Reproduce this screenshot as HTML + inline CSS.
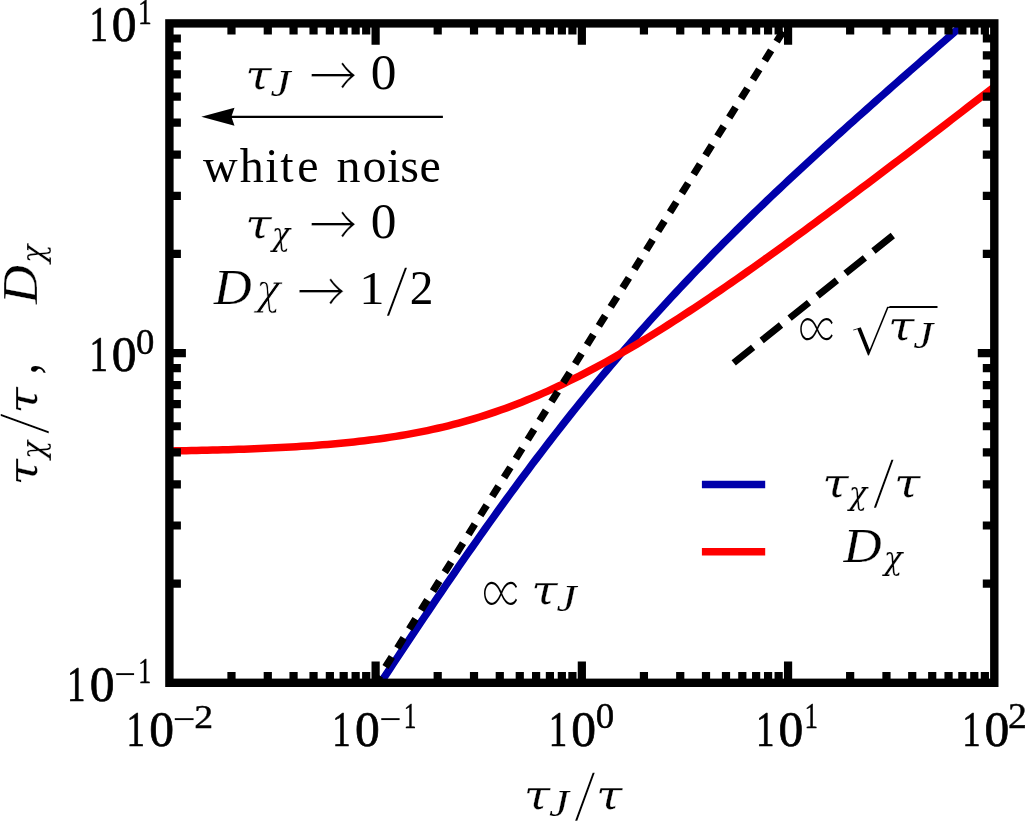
<!DOCTYPE html>
<html lang="en"><head><meta charset="utf-8"><title>plot</title>
<style>html,body{margin:0;padding:0;background:#fff}svg{display:block}</style></head>
<body>
<svg width="1025" height="821" viewBox="0 0 1025 821">
<rect width="1025" height="821" fill="#fff"/>
<defs><clipPath id="ax"><rect x="169.4" y="23.4" width="824.9" height="659.4"/></clipPath></defs>
<g clip-path="url(#ax)" fill="none">
<path d="M372.00,695.80 L376.34,689.24 L380.68,682.68 L385.01,676.12 L389.35,669.56 L393.69,663.01 L398.03,656.47 L402.37,649.94 L406.71,643.42 L411.04,636.91 L415.38,630.42 L419.72,623.94 L424.06,617.47 L428.40,611.03 L432.73,604.60 L437.07,598.19 L441.41,591.80 L445.75,585.43 L450.09,579.09 L454.42,572.77 L458.76,566.47 L463.10,560.20 L467.44,553.96 L471.78,547.74 L476.12,541.55 L480.45,535.39 L484.79,529.25 L489.13,523.15 L493.47,517.08 L497.81,511.04 L502.14,505.03 L506.48,499.05 L510.82,493.10 L515.16,487.19 L519.50,481.31 L523.83,475.46 L528.17,469.65 L532.51,463.87 L536.85,458.13 L541.19,452.42 L545.53,446.74 L549.86,441.10 L554.20,435.50 L558.54,429.93 L562.88,424.40 L567.22,418.90 L571.55,413.43 L575.89,408.01 L580.23,402.61 L584.57,397.26 L588.91,391.94 L593.24,386.65 L597.58,381.40 L601.92,376.18 L606.26,371.00 L610.60,365.86 L614.94,360.74 L619.27,355.67 L623.61,350.62 L627.95,345.61 L632.29,340.63 L636.63,335.69 L640.96,330.78 L645.30,325.90 L649.64,321.06 L653.98,316.24 L658.32,311.46 L662.65,306.71 L666.99,301.99 L671.33,297.30 L675.67,292.64 L680.01,288.00 L684.35,283.40 L688.68,278.83 L693.02,274.28 L697.36,269.76 L701.70,265.27 L706.04,260.81 L710.37,256.37 L714.71,251.95 L719.05,247.57 L723.39,243.20 L727.73,238.86 L732.06,234.54 L736.40,230.25 L740.74,225.98 L745.08,221.73 L749.42,217.50 L753.76,213.29 L758.09,209.10 L762.43,204.94 L766.77,200.79 L771.11,196.65 L775.45,192.54 L779.78,188.45 L784.12,184.37 L788.46,180.30 L792.80,176.26 L797.14,172.22 L801.47,168.21 L805.81,164.20 L810.15,160.21 L814.49,156.23 L818.83,152.27 L823.17,148.32 L827.50,144.37 L831.84,140.44 L836.18,136.52 L840.52,132.61 L844.86,128.71 L849.19,124.82 L853.53,120.94 L857.87,117.06 L862.21,113.19 L866.55,109.33 L870.88,105.48 L875.22,101.63 L879.56,97.79 L883.90,93.96 L888.24,90.13 L892.58,86.30 L896.91,82.48 L901.25,78.67 L905.59,74.86 L909.93,71.05 L914.27,67.25 L918.60,63.45 L922.94,59.66 L927.28,55.86 L931.62,52.07 L935.96,48.29 L940.29,44.50 L944.63,40.72 L948.97,36.94 L953.31,33.17 L957.65,29.40 L961.99,25.63 L966.32,21.86 L970.66,18.09 L975.00,14.33" stroke="#0000aa" stroke-width="7.5"/>
<path d="M165.28,451.00 L170.52,450.91 L175.76,450.83 L181.00,450.74 L186.24,450.64 L191.48,450.54 L196.72,450.43 L201.96,450.32 L207.19,450.20 L212.43,450.07 L217.67,449.94 L222.91,449.79 L228.15,449.64 L233.39,449.48 L238.63,449.31 L243.87,449.13 L249.11,448.94 L254.35,448.74 L259.59,448.53 L264.83,448.31 L270.07,448.07 L275.31,447.82 L280.55,447.56 L285.79,447.28 L291.03,446.99 L296.27,446.68 L301.51,446.35 L306.75,446.00 L311.99,445.64 L317.23,445.25 L322.47,444.85 L327.71,444.42 L332.95,443.97 L338.19,443.49 L343.43,442.99 L348.67,442.47 L353.91,441.91 L359.15,441.33 L364.39,440.72 L369.63,440.07 L374.87,439.40 L380.11,438.69 L385.35,437.94 L390.59,437.16 L395.83,436.34 L401.07,435.48 L406.31,434.58 L411.55,433.64 L416.79,432.66 L422.03,431.63 L427.27,430.55 L432.51,429.43 L437.75,428.26 L442.99,427.04 L448.23,425.77 L453.47,424.44 L458.71,423.07 L463.95,421.64 L469.19,420.15 L474.43,418.61 L479.67,417.01 L484.91,415.36 L490.15,413.65 L495.39,411.88 L500.63,410.06 L505.87,408.17 L511.11,406.23 L516.35,404.23 L521.59,402.18 L526.83,400.07 L532.07,397.90 L537.31,395.68 L542.55,393.40 L547.79,391.07 L553.03,388.69 L558.27,386.26 L563.51,383.77 L568.75,381.24 L573.99,378.66 L579.23,376.03 L584.47,373.35 L589.71,370.62 L594.95,367.85 L600.19,365.04 L605.43,362.18 L610.67,359.28 L615.91,356.34 L621.15,353.35 L626.39,350.33 L631.63,347.27 L636.87,344.16 L642.11,341.02 L647.35,337.85 L652.59,334.63 L657.83,331.39 L663.07,328.11 L668.31,324.79 L673.55,321.45 L678.79,318.08 L684.03,314.67 L689.27,311.24 L694.51,307.78 L699.75,304.30 L704.99,300.78 L710.23,297.25 L715.47,293.69 L720.71,290.11 L725.95,286.51 L731.19,282.88 L736.43,279.24 L741.67,275.58 L746.91,271.90 L752.15,268.20 L757.39,264.48 L762.63,260.75 L767.87,257.01 L773.11,253.25 L778.35,249.47 L783.59,245.68 L788.83,241.88 L794.07,238.07 L799.31,234.24 L804.55,230.41 L809.79,226.56 L815.03,222.70 L820.27,218.83 L825.51,214.95 L830.75,211.07 L835.99,207.17 L841.23,203.27 L846.47,199.36 L851.71,195.44 L856.95,191.52 L862.19,187.58 L867.43,183.64 L872.67,179.70 L877.91,175.75 L883.15,171.79 L888.39,167.82 L893.63,163.86 L898.87,159.88 L904.11,155.90 L909.35,151.92 L914.59,147.93 L919.83,143.94 L925.07,139.94 L930.31,135.94 L935.55,131.93 L940.79,127.92 L946.03,123.91 L951.27,119.89 L956.51,115.87 L961.74,111.85 L966.98,107.82 L972.22,103.79 L977.46,99.76 L982.70,95.72 L987.94,91.68 L993.18,87.64 L998.42,83.60" stroke="#ff0000" stroke-width="7.5"/>
<path d="M375.62,682.80 L788.07,23.40" stroke="#000" stroke-width="7.2" stroke-dasharray="12 10.35" stroke-dashoffset="3.7"/>
<path d="M733.7,362.9 L893.9,234.7" stroke="#000" stroke-width="6.9" stroke-dasharray="24.8 11.0"/>
</g>
<path d="M231.48,682.8 v-10.7 M231.48,23.4 v11.2 M267.79,682.8 v-10.7 M267.79,23.4 v11.2 M293.56,682.8 v-10.7 M293.56,23.4 v11.2 M313.55,682.8 v-10.7 M313.55,23.4 v11.2 M329.87,682.8 v-10.7 M329.87,23.4 v11.2 M343.68,682.8 v-10.7 M343.68,23.4 v11.2 M355.64,682.8 v-10.7 M355.64,23.4 v11.2 M366.19,682.8 v-10.7 M366.19,23.4 v11.2 M375.62,682.8 v-21.4 M375.62,23.4 v21.3 M437.70,682.8 v-10.7 M437.70,23.4 v11.2 M474.02,682.8 v-10.7 M474.02,23.4 v11.2 M499.78,682.8 v-10.7 M499.78,23.4 v11.2 M519.77,682.8 v-10.7 M519.77,23.4 v11.2 M536.10,682.8 v-10.7 M536.10,23.4 v11.2 M549.91,682.8 v-10.7 M549.91,23.4 v11.2 M561.86,682.8 v-10.7 M561.86,23.4 v11.2 M572.41,682.8 v-10.7 M572.41,23.4 v11.2 M581.85,682.8 v-21.4 M581.85,23.4 v21.3 M643.93,682.8 v-10.7 M643.93,23.4 v11.2 M680.24,682.8 v-10.7 M680.24,23.4 v11.2 M706.01,682.8 v-10.7 M706.01,23.4 v11.2 M726.00,682.8 v-10.7 M726.00,23.4 v11.2 M742.32,682.8 v-10.7 M742.32,23.4 v11.2 M756.13,682.8 v-10.7 M756.13,23.4 v11.2 M768.09,682.8 v-10.7 M768.09,23.4 v11.2 M778.64,682.8 v-10.7 M778.64,23.4 v11.2 M788.07,682.8 v-21.4 M788.07,23.4 v21.3 M850.15,682.8 v-10.7 M850.15,23.4 v11.2 M886.47,682.8 v-10.7 M886.47,23.4 v11.2 M912.23,682.8 v-10.7 M912.23,23.4 v11.2 M932.22,682.8 v-10.7 M932.22,23.4 v11.2 M948.55,682.8 v-10.7 M948.55,23.4 v11.2 M962.36,682.8 v-10.7 M962.36,23.4 v11.2 M974.31,682.8 v-10.7 M974.31,23.4 v11.2 M984.86,682.8 v-10.7 M984.86,23.4 v11.2 M169.4,583.55 h11.5 M994.3,583.55 h-11.5 M169.4,525.49 h11.5 M994.3,525.49 h-11.5 M169.4,484.30 h11.5 M994.3,484.30 h-11.5 M169.4,452.35 h11.5 M994.3,452.35 h-11.5 M169.4,426.24 h11.5 M994.3,426.24 h-11.5 M169.4,404.17 h11.5 M994.3,404.17 h-11.5 M169.4,385.05 h11.5 M994.3,385.05 h-11.5 M169.4,368.19 h11.5 M994.3,368.19 h-11.5 M169.4,353.10 h16.5 M994.3,353.10 h-16.5 M169.4,253.85 h11.5 M994.3,253.85 h-11.5 M169.4,195.79 h11.5 M994.3,195.79 h-11.5 M169.4,154.60 h11.5 M994.3,154.60 h-11.5 M169.4,122.65 h11.5 M994.3,122.65 h-11.5 M169.4,96.54 h11.5 M994.3,96.54 h-11.5 M169.4,74.47 h11.5 M994.3,74.47 h-11.5 M169.4,55.35 h11.5 M994.3,55.35 h-11.5 M169.4,38.49 h11.5 M994.3,38.49 h-11.5" stroke="#000" stroke-width="8.2" fill="none"/>
<rect x="169.4" y="23.4" width="824.9" height="659.4" fill="none" stroke="#000" stroke-width="8.4"/>
<g fill="#000">
<text font-family="Liberation Serif, serif" font-size="100" transform="matrix(0.3688 0 0 0.4969 89.52 41.15)" stroke="#000" stroke-width="1.4" stroke-linejoin="round" >1</text><text font-family="Liberation Serif, serif" font-size="100" transform="matrix(0.4956 0 0 0.4994 111.66 41.16)" stroke="#000" stroke-width="1.4" stroke-linejoin="round" >0</text><text font-family="Liberation Serif, serif" font-size="100" transform="matrix(0.2747 0 0 0.3526 137.95 23.79)" stroke="#000" stroke-width="1.2" stroke-linejoin="round" >1</text>
<text font-family="Liberation Serif, serif" font-size="100" transform="matrix(0.3688 0 0 0.4969 89.57 370.95)" stroke="#000" stroke-width="1.4" stroke-linejoin="round" >1</text><text font-family="Liberation Serif, serif" font-size="100" transform="matrix(0.4956 0 0 0.4994 111.66 370.96)" stroke="#000" stroke-width="1.4" stroke-linejoin="round" >0</text><text font-family="Liberation Serif, serif" font-size="100" transform="matrix(0.3671 0 0 0.3553 136.12 353.74)" stroke="#000" stroke-width="1.2" stroke-linejoin="round" >0</text>
<text font-family="Liberation Serif, serif" font-size="100" transform="matrix(0.3688 0 0 0.4969 67.12 700.55)" stroke="#000" stroke-width="1.4" stroke-linejoin="round" >1</text><text font-family="Liberation Serif, serif" font-size="100" transform="matrix(0.4956 0 0 0.4994 89.86 700.56)" stroke="#000" stroke-width="1.4" stroke-linejoin="round" >0</text><text font-family="Liberation Serif, serif" font-size="100" transform="matrix(0.3847 0 0 0.3815 114.28 686.92)" >−</text><text font-family="Liberation Serif, serif" font-size="100" transform="matrix(0.2582 0 0 0.3526 138.29 683.19)" stroke="#000" stroke-width="1.2" stroke-linejoin="round" >1</text>
<text font-family="Liberation Serif, serif" font-size="100" transform="matrix(0.3688 0 0 0.4969 126.52 745.85)" stroke="#000" stroke-width="1.4" stroke-linejoin="round" >1</text><text font-family="Liberation Serif, serif" font-size="100" transform="matrix(0.4956 0 0 0.4994 149.16 745.86)" stroke="#000" stroke-width="1.4" stroke-linejoin="round" >0</text><text font-family="Liberation Serif, serif" font-size="100" transform="matrix(0.4040 0 0 0.3815 172.69 731.52)" >−</text><text font-family="Liberation Serif, serif" font-size="100" transform="matrix(0.3778 0 0 0.3471 194.37 727.79)" stroke="#000" stroke-width="1.2" stroke-linejoin="round" >2</text>
<text font-family="Liberation Serif, serif" font-size="100" transform="matrix(0.3688 0 0 0.4969 332.32 745.85)" stroke="#000" stroke-width="1.4" stroke-linejoin="round" >1</text><text font-family="Liberation Serif, serif" font-size="100" transform="matrix(0.4956 0 0 0.4994 354.96 745.86)" stroke="#000" stroke-width="1.4" stroke-linejoin="round" >0</text><text font-family="Liberation Serif, serif" font-size="100" transform="matrix(0.3954 0 0 0.3815 379.13 731.72)" >−</text><text font-family="Liberation Serif, serif" font-size="100" transform="matrix(0.2527 0 0 0.3526 403.73 728.09)" stroke="#000" stroke-width="1.2" stroke-linejoin="round" >1</text>
<text font-family="Liberation Serif, serif" font-size="100" transform="matrix(0.3688 0 0 0.4969 548.82 745.85)" stroke="#000" stroke-width="1.4" stroke-linejoin="round" >1</text><text font-family="Liberation Serif, serif" font-size="100" transform="matrix(0.4956 0 0 0.4994 571.16 745.86)" stroke="#000" stroke-width="1.4" stroke-linejoin="round" >0</text><text font-family="Liberation Serif, serif" font-size="100" transform="matrix(0.3694 0 0 0.3524 595.81 727.94)" stroke="#000" stroke-width="1.2" stroke-linejoin="round" >0</text>
<text font-family="Liberation Serif, serif" font-size="100" transform="matrix(0.3688 0 0 0.4969 755.92 745.85)" stroke="#000" stroke-width="1.4" stroke-linejoin="round" >1</text><text font-family="Liberation Serif, serif" font-size="100" transform="matrix(0.4956 0 0 0.4994 778.46 745.86)" stroke="#000" stroke-width="1.4" stroke-linejoin="round" >0</text><text font-family="Liberation Serif, serif" font-size="100" transform="matrix(0.2692 0 0 0.3511 804.50 727.79)" stroke="#000" stroke-width="1.2" stroke-linejoin="round" >1</text>
<text font-family="Liberation Serif, serif" font-size="100" transform="matrix(0.3688 0 0 0.4969 962.32 745.85)" stroke="#000" stroke-width="1.4" stroke-linejoin="round" >1</text><text font-family="Liberation Serif, serif" font-size="100" transform="matrix(0.4956 0 0 0.4994 984.56 745.86)" stroke="#000" stroke-width="1.4" stroke-linejoin="round" >0</text><text font-family="Liberation Serif, serif" font-size="100" transform="matrix(0.3778 0 0 0.3531 1007.97 727.79)" stroke="#000" stroke-width="1.2" stroke-linejoin="round" >2</text>
</g>
<g fill="#000">
<text font-family="DejaVu Serif, serif" font-style="italic" font-size="100" transform="matrix(0.4757 0 0 0.4181 245.30 88.57)" stroke="#fff" stroke-width="0.6" >τ</text><text font-family="Liberation Serif, serif" font-style="italic" font-size="100" transform="matrix(0.4495 0 0 0.3730 270.61 95.93)" stroke="#fff" stroke-width="0.5" >J</text>
<text font-family="Noto Serif CJK SC, DejaVu Serif, serif" font-size="100" transform="matrix(0.4702 0 0 0.5367 309.85 96.19)" stroke="#fff" stroke-width="0.3" >→</text>
<text font-family="Liberation Serif, serif" font-size="100" transform="matrix(0.5144 0 0 0.5024 370.74 89.01)" >0</text>
<text font-family="Liberation Serif, serif" font-size="48" x="203.05 239.73 265.29 280.14 297.34 321.00 336.56 362.45 386.99 400.19 419.54" y="182.00" >white noise</text>
<text font-family="DejaVu Serif, serif" font-style="italic" font-size="100" transform="matrix(0.4757 0 0 0.4181 245.30 237.77)" stroke="#fff" stroke-width="0.6" >τ</text><text font-family="DejaVu Serif, serif" font-style="italic" font-size="100" transform="matrix(0.3039 0 0 0.3189 271.77 245.11)" stroke="#fff" stroke-width="0.6" >χ</text>
<text font-family="Noto Serif CJK SC, DejaVu Serif, serif" font-size="100" transform="matrix(0.4702 0 0 0.5367 309.85 245.39)" stroke="#fff" stroke-width="0.3" >→</text>
<text font-family="Liberation Serif, serif" font-size="100" transform="matrix(0.5144 0 0 0.5024 370.74 238.21)" >0</text>
<text font-family="Liberation Serif, serif" font-style="italic" font-size="100" transform="matrix(0.5258 0 0 0.4971 213.66 303.63)" stroke="#fff" stroke-width="0.5" >D</text>
<text font-family="DejaVu Serif, serif" font-style="italic" font-size="100" transform="matrix(0.4096 0 0 0.4379 255.97 304.21)" stroke="#fff" stroke-width="2" >χ</text>
<text font-family="Noto Serif CJK SC, DejaVu Serif, serif" font-size="100" transform="matrix(0.4756 0 0 0.5367 297.43 312.39)" stroke="#fff" stroke-width="0.3" >→</text>
<text font-family="Liberation Serif, serif" font-size="100" transform="matrix(0.5056 0 0 0.4726 359.16 303.60)" >1</text>
<text font-family="Liberation Serif, serif" font-size="100" transform="matrix(0.8067 0 0 0.7427 385.69 315.62)" stroke="#fff" stroke-width="2" >/</text>
<text font-family="Liberation Serif, serif" font-size="100" transform="matrix(0.4740 0 0 0.4773 409.72 303.60)" >2</text>
<path d="M231,116.8 H442.9" stroke="#000" stroke-width="2.2" fill="none"/>
<path d="M201.3,116.8 L234.5,107.8 L231.4,116.8 L234.5,125.7 Z" fill="#000"/>
<text font-family="Noto Serif CJK SC, DejaVu Serif, serif" font-size="100" transform="matrix(0.3567 0 0 0.5502 482.65 612.65)" >∝</text>
<text font-family="DejaVu Serif, serif" font-style="italic" font-size="100" transform="matrix(0.4757 0 0 0.4181 531.30 603.57)" stroke="#fff" stroke-width="0.6" >τ</text><text font-family="Liberation Serif, serif" font-style="italic" font-size="100" transform="matrix(0.4495 0 0 0.3730 556.61 610.93)" stroke="#fff" stroke-width="0.5" >J</text>
<text font-family="Noto Serif CJK SC, DejaVu Serif, serif" font-size="100" transform="matrix(0.3502 0 0 0.5383 798.97 349.16)" >∝</text>
<text font-family="DejaVu Serif, serif" font-size="100" transform="matrix(0.6713 0 0 0.6067 850.06 354.54)" stroke="#fff" stroke-width="2.5" >√</text>
<path d="M889.4,307 H937.5" stroke="#000" stroke-width="1.9" fill="none"/>
<text font-family="DejaVu Serif, serif" font-style="italic" font-size="100" transform="matrix(0.4757 0 0 0.4181 887.90 340.37)" stroke="#fff" stroke-width="0.6" >τ</text><text font-family="Liberation Serif, serif" font-style="italic" font-size="100" transform="matrix(0.4495 0 0 0.3730 913.21 347.73)" stroke="#fff" stroke-width="0.5" >J</text>
<path d="M701.9,484.4 H765.2" stroke="#0000aa" stroke-width="7.5" fill="none"/>
<path d="M701.9,551.7 H765.2" stroke="#ff0000" stroke-width="7.5" fill="none"/>
<text font-family="DejaVu Serif, serif" font-style="italic" font-size="100" transform="matrix(0.4757 0 0 0.4181 822.30 496.77)" stroke="#fff" stroke-width="0.6" >τ</text><text font-family="DejaVu Serif, serif" font-style="italic" font-size="100" transform="matrix(0.3039 0 0 0.3189 848.77 504.11)" stroke="#fff" stroke-width="0.6" >χ</text>
<text font-family="Liberation Serif, serif" font-size="100" transform="matrix(0.7873 0 0 0.7489 872.81 508.32)" stroke="#fff" stroke-width="2" >/</text>
<text font-family="DejaVu Serif, serif" font-style="italic" font-size="100" transform="matrix(0.4757 0 0 0.4181 893.90 496.77)" stroke="#fff" stroke-width="0.6" >τ</text>
<text font-family="Liberation Serif, serif" font-style="italic" font-size="100" transform="matrix(0.5286 0 0 0.4956 843.56 561.63)" stroke="#fff" stroke-width="0.5" >D</text>
<text font-family="DejaVu Serif, serif" font-style="italic" font-size="100" transform="matrix(0.3096 0 0 0.3203 883.81 568.98)" stroke="#fff" stroke-width="0.6" >χ</text>
<text font-family="DejaVu Serif, serif" font-style="italic" font-size="100" transform="matrix(0.4757 0 0 0.4181 523.80 808.87)" stroke="#fff" stroke-width="0.6" >τ</text><text font-family="Liberation Serif, serif" font-style="italic" font-size="100" transform="matrix(0.4495 0 0 0.3730 549.11 816.23)" stroke="#fff" stroke-width="0.5" >J</text>
<text font-family="Liberation Serif, serif" font-size="100" transform="matrix(0.7873 0 0 0.7458 574.11 820.62)" stroke="#fff" stroke-width="2" >/</text>
<text font-family="DejaVu Serif, serif" font-style="italic" font-size="100" transform="matrix(0.4757 0 0 0.4181 596.00 808.87)" stroke="#fff" stroke-width="0.6" >τ</text>
<g transform="rotate(-90)">
<text font-family="DejaVu Serif, serif" font-style="italic" font-size="100" transform="matrix(0.4798 0 0 0.4142 -485.43 36.78)" stroke="#fff" stroke-width="0.6" >τ</text>
<text font-family="DejaVu Serif, serif" font-style="italic" font-size="100" transform="matrix(0.3039 0 0 0.3123 -459.03 44.36)" stroke="#fff" stroke-width="0.6" >χ</text>
<text font-family="Liberation Serif, serif" font-size="100" transform="matrix(0.7873 0 0 0.7458 -434.39 48.82)" stroke="#fff" stroke-width="2" >/</text>
<text font-family="DejaVu Serif, serif" font-style="italic" font-size="100" transform="matrix(0.4798 0 0 0.4142 -413.73 36.78)" stroke="#fff" stroke-width="0.6" >τ</text>
<text font-family="Liberation Serif, serif" font-size="100" transform="matrix(0.4566 0 0 0.5801 -374.54 37.18)" >,</text>
<text font-family="Liberation Serif, serif" font-style="italic" font-size="100" transform="matrix(0.5384 0 0 0.5155 -304.03 36.73)" stroke="#fff" stroke-width="0.5" >D</text>
<text font-family="DejaVu Serif, serif" font-style="italic" font-size="100" transform="matrix(0.3068 0 0 0.3189 -263.01 44.21)" stroke="#fff" stroke-width="0.6" >χ</text>
</g>
</g>
</svg>
</body></html>
